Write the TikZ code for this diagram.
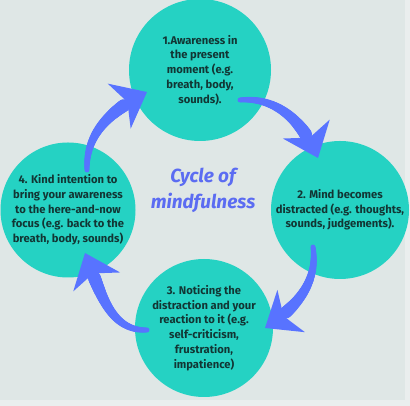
\documentclass[tikz,border=0pt]{standalone}
\usepackage{fontspec}
\setmainfont{Fira Sans}
\usepackage{tikz}
\usetikzlibrary{arrows.meta,positioning,decorations.markings}
\definecolor{bgcol}{HTML}{DFE7E6}
\definecolor{edgecol}{HTML}{EAEEEE}
\definecolor{stepcol}{HTML}{25D2C3}
\definecolor{arrowcol}{HTML}{5873FF}
\definecolor{titlecol}{HTML}{5B6CF2}
\definecolor{textcol}{HTML}{123634}

\begin{document}
\begin{tikzpicture}[x=1pt,y=1pt,node distance=140pt,on grid,
  stepnode/.style={circle,fill=stepcol,minimum size=138pt,inner sep=0pt,align=center,
    text=textcol,font=\fontsize{11.2}{14.7}\selectfont\bfseries},
  flow/.style={draw=arrowcol,line width=4pt,
    -{Stealth[length=31pt,width=50pt,inset=9pt]},
    postaction={decorate,decoration={markings,
      mark=between positions 0 and -26pt step 1pt with {
        \pgfmathsetmacro\rr{min(2.4+0.05*\pgfkeysvalueof{/pgf/decoration/mark info/sequence number},7)}
        \fill[arrowcol] (0,0) circle (\rr pt);}}}}]
\fill[edgecol] (0,0) rectangle (410,406);
\fill[bgcol] (0,6) rectangle (405,406);
\useasboundingbox (0,0) rectangle (410,406);

\node[stepnode,minimum size=142pt] (s1) at (200,336) {1.Awareness in\\the present\\moment (e.g.\\breath, body,\\sounds).};
\node[stepnode] (s2) [below right=140pt and 140pt of s1] {2. Mind becomes\\distracted (e.g. thoughts,\\sounds, judgements).};
\node[stepnode] (s3) [below left=118pt and 136pt of s2] {3. Noticing the\\distraction and your\\reaction to it (e.g.\\self-criticism,\\frustration,\\impatience)};
\node[stepnode,minimum size=135pt] (s4) [above left=118pt and 136pt of s3] {4. Kind intention to\\bring your awareness\\to the here-and-now\\focus (e.g. back to the\\breath, body, sounds)};

\node[text=titlecol,align=center,font=\fontsize{19}{26}\selectfont\bfseries\itshape] (title) at (203,216) {Cycle of\\mindfulness};

% arrows between the steps
\coordinate (a1) at ([shift={(40,-30)}]s1.center);
\coordinate (b1) at ([shift={(-22,52)}]s2.center);
\coordinate (a2) at ([shift={(-27,-37)}]s2.center);
\coordinate (b2) at ([shift={(61,0)}]s3.center);
\coordinate (a3) at ([shift={(-57,-2)}]s3.center);
\coordinate (b3) at ([shift={(17,-43)}]s4.center);
\coordinate (a4) at ([shift={(19,40)}]s4.center);
\coordinate (b4) at ([shift={(-53,-22)}]s1.center);
\path[flow] (a1) to[out=5,in=112] (b1);
\path[flow] (a2) to[out=-82,in=33] (b2);
\path[flow] (a3) to[out=182,in=-68] (b3);
\path[flow] (a4) to[out=92,in=-153] (b4);
\end{tikzpicture}
\end{document}
